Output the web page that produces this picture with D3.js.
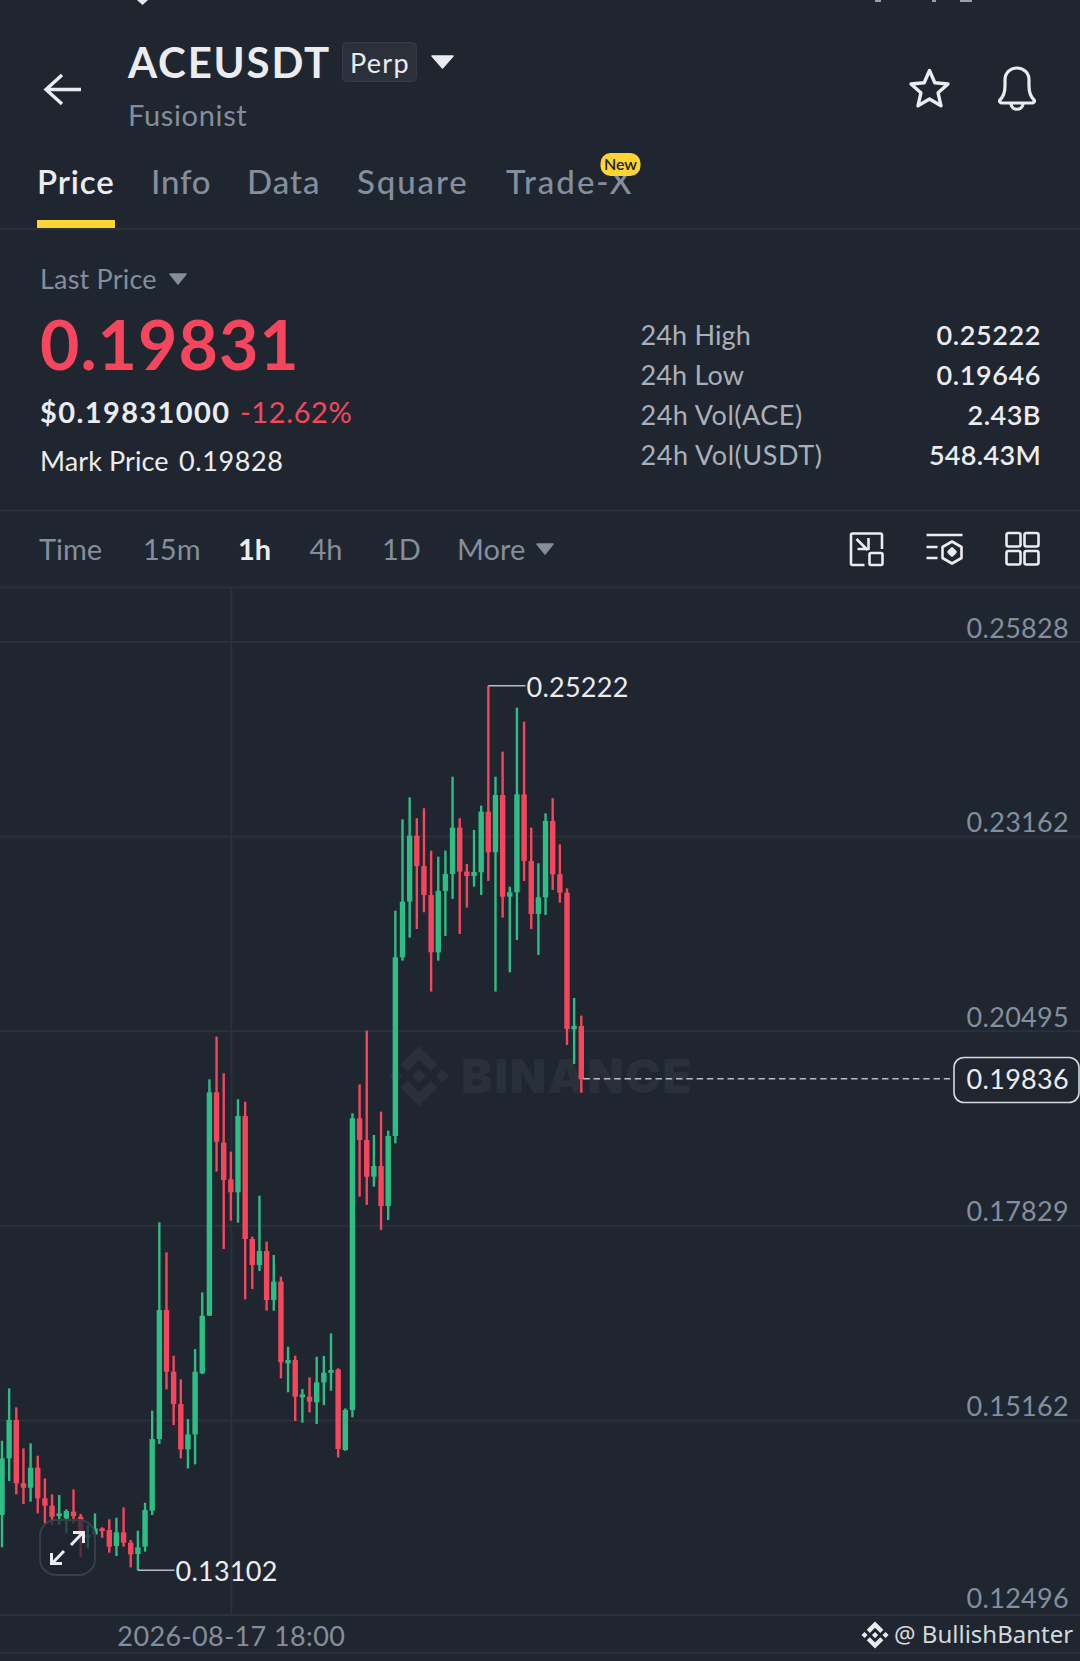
<!DOCTYPE html>
<html><head><meta charset="utf-8">
<script src="https://cdn.jsdelivr.net/npm/d3@7"></script>
<style>
html,body{margin:0;padding:0;background:#1f2630;overflow:hidden}
svg{display:block}
text{font-family:Lato,"Open Sans",sans-serif}
</style></head><body>
<script>
const opens =[.13859,.14635,.15161,.14293,.14233,.14507,.14087,.13987,.13845,.13813,.13905,.13836,.13553,.13594,.13676,.13653,.13434,.13621,.13480,.13325,.13425,.13918,.14900,.16668,.15823,.15380,.14759,.14964,.15800,.16591,.19651,.18961,.18459,.18281,.19327,.17641,.17285,.17477,.16805,.17057,.15937,.15983,.15471,.15480,.15403,.15677,.15809,.15855,.14750,.15298,.19295,.18998,.18495,.18641,.18093,.19053,.21501,.22264,.23168,.22752,.22355,.21569,.22410,.22643,.23278,.22675,.22615,.22666,.23497,.22940,.23725,.22332,.22392,.23734,.22821,.22095,.22323,.23369,.22638,.22387,.20514,.20560];
const closes=[.14635,.15161,.14293,.14233,.14507,.14087,.13987,.13836,.13882,.13914,.13845,.13562,.13585,.13676,.13640,.13425,.13621,.13480,.13320,.13416,.13927,.14900,.16668,.15823,.15380,.14759,.14964,.15823,.16590,.19651,.18975,.18450,.18281,.19327,.17641,.17285,.17477,.16805,.17057,.15951,.15983,.15480,.15512,.15412,.15677,.15809,.15846,.14763,.15298,.19295,.18998,.18495,.18641,.18093,.19053,.21501,.22264,.23168,.22752,.22355,.21569,.22410,.22643,.23278,.22675,.22615,.22670,.23497,.22940,.23725,.22332,.22392,.23734,.22821,.22095,.22323,.23369,.22638,.22387,.20519,.20560,.19831];
const highs =[.14877,.15594,.15334,.14772,.14841,.14672,.14361,.14142,.14133,.13937,.14211,.13873,.13722,.13882,.13690,.13800,.13822,.13964,.13516,.13644,.14028,.15288,.17869,.17458,.16042,.15718,.15174,.16133,.16910,.19829,.20414,.19911,.18838,.19555,.19523,.17673,.18235,.17605,.17422,.17125,.16165,.16042,.15585,.15745,.16028,.16038,.16348,.15869,.15320,.19363,.19760,.20496,.19066,.19386,.19126,.22140,.23392,.23693,.23406,.23543,.22963,.22880,.22963,.23976,.23406,.22780,.23246,.23579,.25222,.23976,.24319,.22469,.24922,.24730,.23278,.22789,.23474,.23680,.23049,.22446,.20944,.20702];
const lows  =[.13416,.14325,.14142,.14010,.14042,.13882,.13745,.13722,.13722,.13608,.13745,.13279,.13402,.13590,.13548,.13343,.13297,.13425,.13142,.13102,.13357,.13859,.14832,.15581,.15092,.14635,.14498,.14553,.15790,.16586,.18564,.17504,.17892,.17865,.16815,.16956,.17203,.16659,.16659,.15731,.15540,.15147,.15124,.15266,.15106,.15366,.15563,.14649,.14740,.15197,.18221,.18107,.18358,.17765,.17902,.18952,.21455,.21770,.21889,.22118,.21031,.21455,.21793,.22300,.21821,.22182,.22469,.22355,.22547,.21031,.22044,.21295,.21738,.22547,.21889,.21533,.22081,.22424,.22250,.20300,.20039,.19646];
const yTicks=[.25828,.23162,.20495,.17829,.15162,.12496];
const crosshairIndex=32, crosshairLabel="2026-08-17 18:00";
const lastPrice=.19836, maxPrice=.25222, minPrice=.13102;
const maxIndex=68, minIndex=19;
const tabs=["Price","Info","Data","Square","Trade-X"];
const periods=["Time","15m","1h","4h","1D","More"];
const statLabels=["24h High","24h Low","24h Vol(ACE)","24h Vol(USDT)"];
const statValues=["0.25222","0.19646","2.43B","548.43M"];

const W=1080,H=1661,BG="#1f2630",LINE="#2b313b",GREY="#848e9c",WHITE="#eaecef",RED="#f6465d",GREEN="#2ebd85",YEL="#fcd535";
const LOGO="M38.73 53.2L63.3 28.63l24.59 24.59 14.3-14.3L63.3 0 24.43 38.87zM0 63.3L14.3 49l14.3 14.3-14.3 14.3zM38.73 73.41L63.3 97.98l24.59-24.59 14.3 14.29L63.3 126.61 24.43 87.74zM98 63.31l14.3-14.3 14.3 14.3-14.3 14.3zM77.83 63.3L63.3 48.78 52.55 59.53l-1.24 1.23-2.54 2.54 14.53 14.53 14.53-14.52z";

const svg=d3.select("body").append("svg").attr("width",W).attr("height",H).attr("viewBox",`0 0 ${W} ${H}`);
svg.append("rect").attr("width",W).attr("height",H).attr("fill",BG);
function T(x,y,s,size,fill,weight,anchor,ls){return svg.append("text").attr("x",x).attr("y",y).text(s).attr("font-size",size).attr("fill",fill).attr("font-weight",weight||400).attr("text-anchor",anchor||"start").attr("letter-spacing",ls||0);}
function HL(y,x1,x2){svg.append("line").attr("x1",x1||0).attr("x2",x2||W).attr("y1",y).attr("y2",y).attr("stroke",LINE).attr("stroke-width",2);}
function Tri(x1,x2,y1,y2,fill){svg.append("path").attr("d",`M${x1} ${y1}L${x2} ${y1}L${(x1+x2)/2} ${y2}Z`).attr("fill",fill).attr("stroke",fill).attr("stroke-width",1.5).attr("stroke-linejoin","round");}

// status bar remains
svg.append("path").attr("d","M137 0h11l-5.5 5z").attr("fill","#e8e8e8");
[[875,6],[932,4],[960,12]].forEach(d=>svg.append("rect").attr("x",d[0]).attr("y",0).attr("width",d[1]).attr("height",2).attr("fill","#9aa0a8"));

// header
svg.append("path").attr("d","M81 89.5H47M62 75L46 89.5L62 104").attr("fill","none").attr("stroke",WHITE).attr("stroke-width",3.4);
T(128,78,"ACEUSDT",42,WHITE,700,"start",1.8);
svg.append("rect").attr("x",342.5).attr("y",42.5).attr("width",74).attr("height",39).attr("rx",4).attr("fill","#2b313b").attr("stroke","#363c46");
T(350,73,"Perp",27,WHITE,400,"start",1.3);
Tri(432,453,56,68,WHITE);
svg.append("path").attr("d",d3.range(10).map(i=>{const r=i%2?9:19.5,a=-Math.PI/2+i*Math.PI/5;return (i?"L":"M")+(929.5+r*Math.cos(a)).toFixed(1)+" "+(90+r*Math.sin(a)).toFixed(1);}).join("")+"Z").attr("fill","none").attr("stroke",WHITE).attr("stroke-width",3.4).attr("stroke-linejoin","round");
svg.append("path").attr("d","M1000 100c4-4 5-8 5-14v-6c0-7 5-12 12-12s12 5 12 12v6c0 6 1 10 5 14c1 1 0 3-2 3h-30c-2 0-3-2-2-3zM1011 104c1 7 11 7 12 0").attr("fill","none").attr("stroke",WHITE).attr("stroke-width",3.2).attr("stroke-linejoin","round");
T(128,126,"Fusionist",29,GREY,400,"start",.65);

// tabs
const tabX=[37,151,247,357,506];
const tabLS=[.85,.8,1.05,1.9,2];
tabs.forEach((t,i)=>T(tabX[i],194,t,33,i?GREY:WHITE,i?500:600,"start",tabLS[i]));
svg.append("rect").attr("x",37).attr("y",220).attr("width",78).attr("height",8).attr("fill",YEL);
svg.append("rect").attr("x",600.5).attr("y",153).attr("width",40).attr("height",23).attr("rx",10).attr("fill",YEL);
T(620.5,170,"New",16,"#1e2329",600,"middle");
HL(229);

// price block
T(40,288.5,"Last Price",27,GREY,400,"start",.2);
Tri(170,186,274,284,GREY);
T(40,370,"0.19831",68,RED,700,"start",1);
T(40,423,"$0.19831000",29,WHITE,700,"start",1.4);
T(240,423,"-12.62%",29,RED,400,"start",.6);
T(40,471,"Mark Price",27,WHITE,400,"start",.1);
T(179,471,"0.19828",27,WHITE,400,"start",.6);
const statY=[345,384.5,424.5,464.5];
const statLS=[.15,.15,.5,.55], valLS=[.6,.6,.5,.3];
statLabels.forEach((s,i)=>{T(640.5,statY[i],s,27,"#aab0b8",400,"start",statLS[i]);T(1041,statY[i],statValues[i],27,WHITE,600,"end",valLS[i]);});
HL(510.5);

// periods
const perX=[39,143,238,309.5,382,457];
periods.forEach((p,i)=>T(perX[i],560,p,29,i==2?WHITE:GREY,i==2?700:400));
Tri(537,553,544,554,GREY);
HL(587.5);
const ic=svg.append("g").attr("transform","translate(0.5,0)").attr("fill","none").attr("stroke","#eaecef").attr("stroke-width",2.6).attr("stroke-linejoin","round");
ic.append("path").attr("d","M864 565H852a1.5 1.5 0 0 1-1.5-1.5V535a1.5 1.5 0 0 1 1.5-1.5H880a1.5 1.5 0 0 1 1.5 1.5V549M856 539l11 11M857 549h11V538");
ic.append("rect").attr("x",869).attr("y",553).attr("width",13).attr("height",12).attr("rx",1.5);
ic.append("path").attr("d","M926 535H962M926 547H937M926 558H937M951.5 541.5l9.5 5.5v11l-9.5 5.5l-9.5-5.5v-11z");
ic.append("path").attr("d","M951.5 548.5l3.5 3.5l-3.5 3.5l-3.5-3.5z").attr("fill","#eaecef");
[[1006,533],[1024,533],[1006,551],[1024,551]].forEach(d=>ic.append("rect").attr("x",d[0]).attr("y",d[1]).attr("width",14).attr("height",13.5).attr("rx",2));

// scales
const x=d3.scalePoint().domain(d3.range(opens.length)).range([2,581.3]);
const y=d3.scaleLinear().domain([yTicks[0],yTicks[yTicks.length-1]]).range([641.5,1614.5]);

// watermark
svg.append("path").attr("d",LOGO).attr("transform","translate(389,1046) scale(0.474)").attr("fill","#2a303a");
svg.append("text").attr("x",461).attr("y",1093).text("BINANCE").attr("font-size",47).attr("font-weight",900).attr("fill","#2a303a").attr("letter-spacing",1.9).style("font-family","Inter,Lato,sans-serif");

// y axis with grid
const ya=svg.append("g").attr("transform",`translate(${W},0)`).call(d3.axisLeft(y).tickValues(yTicks).tickSize(W).tickFormat(d3.format(".5f")));
ya.select(".domain").remove();
ya.selectAll("line").attr("stroke",LINE).attr("stroke-width",2);
ya.selectAll("text").attr("x",-11).attr("dy",(d,i)=>i==yTicks.length-1?-7:-4.5).attr("y",0).attr("text-anchor","end").attr("font-size",27).attr("fill",GREY).attr("letter-spacing",.3).style("font-family","Lato");

// crosshair + date axis
const xa=svg.append("g").attr("transform","translate(0,1614.5)").call(d3.axisBottom(x).tickValues([crosshairIndex]).tickSize(-1027).tickFormat(()=>crosshairLabel));
xa.select(".domain").remove();
xa.selectAll("line").attr("stroke",LINE).attr("stroke-width",2);
xa.selectAll("text").attr("y",31.5).attr("dy",0).attr("font-size",27).attr("fill",GREY).attr("letter-spacing",.4).style("font-family","Lato");
HL(1653);

// candles
const idx=d3.range(opens.length);
const col=i=>closes[i]>=opens[i]?GREEN:RED;
svg.append("g").selectAll("line").data(idx).join("line")
 .attr("x1",x).attr("x2",x).attr("y1",i=>y(highs[i])).attr("y2",i=>y(lows[i])).attr("stroke",col).attr("stroke-width",2.4);
svg.append("g").selectAll("rect").data(idx).join("rect")
 .attr("x",i=>x(i)-2.7).attr("width",5.4)
 .attr("y",i=>y(Math.max(opens[i],closes[i]))).attr("height",i=>Math.max(1.5,Math.abs(y(opens[i])-y(closes[i])))).attr("fill",col);

// extremes
function ext(i,v,label,tx){
 svg.append("line").attr("x1",x(i)).attr("x2",tx-1).attr("y1",y(v)).attr("y2",y(v)).attr("stroke","#b7bdc6").attr("stroke-width",1.6);
 T(tx,y(v)+11,label,27,WHITE,400,"start",.25);
}
ext(maxIndex,maxPrice,d3.format(".5f")(maxPrice),526.5);
ext(minIndex,minPrice,d3.format(".5f")(minPrice),175.5);

// last price
svg.append("line").attr("x1",x(81)+2).attr("x2",950).attr("y1",y(lastPrice)).attr("y2",y(lastPrice)).attr("stroke","#b7bdc6").attr("stroke-width",1.6).attr("stroke-dasharray","6.5 3.8");
svg.append("rect").attr("x",954).attr("y",1057.5).attr("width",125).attr("height",45).attr("rx",10).attr("fill",BG).attr("stroke","#d5d8dc").attr("stroke-width",1.6);
T(1069,1089,d3.format(".5f")(lastPrice),27,WHITE,400,"end",.3);

// expand button
svg.append("rect").attr("x",40).attr("y",1520).attr("width",55).attr("height",55).attr("rx",16).attr("fill",BG).attr("fill-opacity",.72).attr("stroke","#383e49").attr("stroke-width",2);
svg.append("path").attr("d","M71 1545L83 1532.5M73 1532.5H83.5V1543M64 1551L52 1563.5M62 1563.5H51.5V1553").attr("fill","none").attr("stroke",WHITE).attr("stroke-width",3);

// footer mark
svg.append("path").attr("d",LOGO).attr("transform","translate(861.5,1621.5) scale(0.214)").attr("fill","#eaecef");
svg.append("text").attr("x",894).attr("y",1643).text("@ BullishBanter").attr("font-size",24).attr("fill","#d5d8dc").style("font-family","'Noto Sans'");
</script>
</body></html>
